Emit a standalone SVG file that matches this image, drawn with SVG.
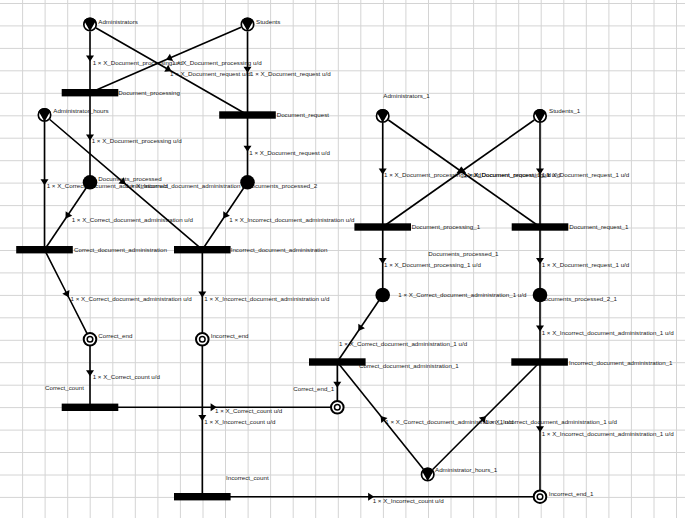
<svg xmlns="http://www.w3.org/2000/svg" xmlns:xlink="http://www.w3.org/1999/xlink" width="685" height="518" viewBox="0 0 685 518">
<style>
.grid line{stroke:#d4d4d4;stroke-width:1}
.arc{fill:none;stroke:#000;stroke-width:1.6;marker-mid:url(#ah)}
text{font-family:"Liberation Sans",Arial,sans-serif;font-size:6.2px;fill:#1a1a1a}
.bar{fill:#000}
.tok{fill:#000}
</style>
<defs>
<marker id="ah" viewBox="-4 -5 8 10" markerWidth="8" markerHeight="10" markerUnits="userSpaceOnUse" orient="auto" refX="0" refY="0">
<path d="M-3,-4 L3,0 L-3,4 Z" fill="#000"/>
</marker>
<clipPath id="pc"><circle cx="0" cy="0" r="7"/></clipPath>
<g id="src">
<circle r="7" fill="#fff"/>
<path d="M-8,-8 H8 V-3.2 H5.6 L0,6.8 L-5.6,-3.2 H-8 Z" fill="#000" clip-path="url(#pc)"/>
<circle r="6.2" fill="none" stroke="#000" stroke-width="1.7"/>
</g>
<g id="endp">
<circle r="6.3" fill="#fff" stroke="#000" stroke-width="2"/>
<circle r="2.8" fill="#fff" stroke="#000" stroke-width="1.5"/>
</g>
</defs>
<rect width="685" height="518" fill="#fff"/>
<g class="grid">
<line x1="0" y1="3.5" x2="685" y2="3.5"/><line x1="0" y1="25.9" x2="685" y2="25.9"/><line x1="0" y1="48.4" x2="685" y2="48.4"/><line x1="0" y1="70.8" x2="685" y2="70.8"/><line x1="0" y1="93.3" x2="685" y2="93.3"/><line x1="0" y1="115.8" x2="685" y2="115.8"/><line x1="0" y1="138.2" x2="685" y2="138.2"/><line x1="0" y1="160.7" x2="685" y2="160.7"/><line x1="0" y1="183.1" x2="685" y2="183.1"/><line x1="0" y1="205.6" x2="685" y2="205.6"/><line x1="0" y1="228" x2="685" y2="228"/><line x1="0" y1="250.5" x2="685" y2="250.5"/><line x1="0" y1="272.9" x2="685" y2="272.9"/><line x1="0" y1="295.4" x2="685" y2="295.4"/><line x1="0" y1="317.8" x2="685" y2="317.8"/><line x1="0" y1="340.3" x2="685" y2="340.3"/><line x1="0" y1="362.7" x2="685" y2="362.7"/><line x1="0" y1="385.2" x2="685" y2="385.2"/><line x1="0" y1="407.6" x2="685" y2="407.6"/><line x1="0" y1="430.1" x2="685" y2="430.1"/><line x1="0" y1="452.5" x2="685" y2="452.5"/><line x1="0" y1="475" x2="685" y2="475"/><line x1="0" y1="497.4" x2="685" y2="497.4"/>
<line x1="22.6" y1="0" x2="22.6" y2="518"/><line x1="45.1" y1="0" x2="45.1" y2="518"/><line x1="67.7" y1="0" x2="67.7" y2="518"/><line x1="90.2" y1="0" x2="90.2" y2="518"/><line x1="112.8" y1="0" x2="112.8" y2="518"/><line x1="135.3" y1="0" x2="135.3" y2="518"/><line x1="157.9" y1="0" x2="157.9" y2="518"/><line x1="180.4" y1="0" x2="180.4" y2="518"/><line x1="203" y1="0" x2="203" y2="518"/><line x1="225.5" y1="0" x2="225.5" y2="518"/><line x1="248.1" y1="0" x2="248.1" y2="518"/><line x1="270.6" y1="0" x2="270.6" y2="518"/><line x1="293.2" y1="0" x2="293.2" y2="518"/><line x1="315.7" y1="0" x2="315.7" y2="518"/><line x1="338.3" y1="0" x2="338.3" y2="518"/><line x1="360.8" y1="0" x2="360.8" y2="518"/><line x1="383.4" y1="0" x2="383.4" y2="518"/><line x1="405.9" y1="0" x2="405.9" y2="518"/><line x1="428.5" y1="0" x2="428.5" y2="518"/><line x1="451" y1="0" x2="451" y2="518"/><line x1="473.6" y1="0" x2="473.6" y2="518"/><line x1="496.1" y1="0" x2="496.1" y2="518"/><line x1="518.7" y1="0" x2="518.7" y2="518"/><line x1="541.2" y1="0" x2="541.2" y2="518"/><line x1="563.8" y1="0" x2="563.8" y2="518"/><line x1="586.3" y1="0" x2="586.3" y2="518"/><line x1="608.9" y1="0" x2="608.9" y2="518"/><line x1="631.4" y1="0" x2="631.4" y2="518"/><line x1="654" y1="0" x2="654" y2="518"/><line x1="676.5" y1="0" x2="676.5" y2="518"/>
</g>
<g id="connectors">
<g class="arclabels">
<text x="92.7" y="64.6">1 × X_Document_processing u/d</text>
<text x="170" y="75.6">1 × X_Document_request u/d</text>
<text x="250" y="75.6">1 × X_Document_request u/d</text>
<text x="171.7" y="64.6">1 × X_Document_processing u/d</text>
<text x="91.7" y="143.3">1 × X_Document_processing u/d</text>
<text x="249.3" y="154.6">1 × X_Document_request u/d</text>
<text x="46.7" y="188">1 × X_Correct_document_administration u/d</text>
<text x="125.7" y="188">1 × X_Incorrect_document_administration u/d</text>
<text x="71.7" y="221.6">1 × X_Correct_document_administration u/d</text>
<text x="229.3" y="221.6">1 × X_Incorrect_document_administration u/d</text>
<text x="70.5" y="300.6">1 × X_Correct_document_administration u/d</text>
<text x="204.3" y="300.6">1 × X_Incorrect_document_administration u/d</text>
<text x="92.7" y="379">1 × X_Correct_count u/d</text>
<text x="215" y="413">1 × X_Correct_count u/d</text>
<text x="204.3" y="424.3">1 × X_Incorrect_count u/d</text>
<text x="372.7" y="503">1 × X_Incorrect_count u/d</text>
<text x="384" y="177.3">1 × X_Document_processing_1 u/d</text>
<text x="463.5" y="177.3">1 × X_Document_request_1 u/d</text>
<text x="463.5" y="177.3">1 × X_Document_processing_1 u/d</text>
<text x="541.7" y="177.3">1 × X_Document_request_1 u/d</text>
<text x="384" y="267.3">1 × X_Document_processing_1 u/d</text>
<text x="541.7" y="267.3">1 × X_Document_request_1 u/d</text>
<text x="398.3" y="297.3">1 × X_Correct_document_administration_1 u/d</text>
<text x="339" y="345.6">1 × X_Correct_document_administration_1 u/d</text>
<text x="541.7" y="334.6">1 × X_Incorrect_document_administration_1 u/d</text>
<text x="385.3" y="424">1 × X_Correct_document_administration_1 u/d</text>
<text x="485" y="424">1 × X_Incorrect_document_administration_1 u/d</text>
<text x="541.7" y="435.6">1 × X_Incorrect_document_administration_1 u/d</text>
</g>
<path class="arc" d="M90,24.5 L90,58.6 L90,92.7"/>
<path class="arc" d="M90,24.5 L168.85,69.75 L247.7,115"/>
<path class="arc" d="M247.5,24.5 L247.5,69.75 L247.5,115"/>
<path class="arc" d="M247.5,24.5 L168.75,58.6 L90,92.7"/>
<path class="arc" d="M90,92.7 L90,137.5 L90,182.3"/>
<path class="arc" d="M247.5,115 L247.5,148.65 L247.5,182.3"/>
<path class="arc" d="M44.5,115 L44.5,182.35 L44.5,249.7"/>
<path class="arc" d="M44.5,115 L123.4,182.35 L202.3,249.7"/>
<path class="arc" d="M90,182.3 L67.25,216 L44.5,249.7"/>
<path class="arc" d="M247.5,182.3 L224.9,216 L202.3,249.7"/>
<path class="arc" d="M44.5,249.7 L67.25,294.5 L90,339.3"/>
<path class="arc" d="M202.3,249.7 L202.3,294.5 L202.3,339.3"/>
<path class="arc" d="M90,339.3 L90,373.3 L90,407.3"/>
<path class="arc" d="M90,407.3 L213.65,407.3 L337.3,407.3"/>
<path class="arc" d="M202.3,339.3 L202.3,418 L202.3,496.7"/>
<path class="arc" d="M202.3,496.7 L371.15,496.7 L540,496.7"/>
<path class="arc" d="M382.7,116 L382.7,171.5 L382.7,227"/>
<path class="arc" d="M382.7,116 L461.35,171.5 L540,227"/>
<path class="arc" d="M540,116 L461.35,171.5 L382.7,227"/>
<path class="arc" d="M540,116 L540,171.5 L540,227"/>
<path class="arc" d="M382.7,227 L382.7,261 L382.7,295"/>
<path class="arc" d="M540,227 L540,261 L540,295"/>
<path class="arc" d="M382.7,295 L359.95,328.5 L337.2,362"/>
<path class="arc" d="M540,295 L540,328.5 L540,362"/>
<path class="arc" d="M337.3,362 L337.3,384.65 L337.3,407.3"/>
<path class="arc" d="M427.7,474.5 L382.5,418.25 L337.3,362"/>
<path class="arc" d="M427.7,474.5 L483.85,418.25 L540,362"/>
<path class="arc" d="M540,362 L540,429.35 L540,496.7"/>
</g>
<g id="Administrators"><text x="98.3" y="23.6">Administrators</text><use xlink:href="#src" x="90" y="24.5"/></g>
<g id="Students"><text x="256" y="23.6">Students</text><use xlink:href="#src" x="247.5" y="24.5"/></g>
<g id="Administrator_hours"><text x="53.3" y="113">Administrator_hours</text><use xlink:href="#src" x="44.5" y="115"/></g>
<g id="Document_processing"><text x="118.3" y="94.6">Document_processing</text><rect class="bar" x="61.7" y="89" width="56.6" height="7.4"/></g>
<g id="Document_request"><text x="276.7" y="117.3">Document_request</text><rect class="bar" x="219.2" y="111.3" width="56.6" height="7.4"/></g>
<g id="Documents_processed"><text x="98.3" y="180.6">Documents_processed</text><circle class="tok" cx="90" cy="182.3" r="7.3"/></g>
<g id="Documents_processed_2"><text x="247" y="188">Documents_processed_2</text><circle class="tok" cx="247.5" cy="182.3" r="7.3"/></g>
<g id="Correct_document_administration"><text x="74" y="251.6">Correct_document_administration</text><rect class="bar" x="16.2" y="246" width="56.6" height="7.4"/></g>
<g id="Incorrect_document_administration"><text x="230.7" y="251.6">Incorrect_document_administration</text><rect class="bar" x="174" y="246" width="56.6" height="7.4"/></g>
<g id="Correct_end"><text x="98.3" y="338">Correct_end</text><use xlink:href="#endp" x="90" y="339.3"/></g>
<g id="Incorrect_end"><text x="210.7" y="338">Incorrect_end</text><use xlink:href="#endp" x="202.3" y="339.3"/></g>
<g id="Correct_count"><text x="45" y="390">Correct_count</text><rect class="bar" x="61.7" y="403.6" width="56.6" height="7.4"/></g>
<g id="Incorrect_count"><text x="226" y="480">Incorrect_count</text><rect class="bar" x="174" y="493" width="56.6" height="7.4"/></g>
<g id="Administrators_1"><text x="383.3" y="98">Administrators_1</text><use xlink:href="#src" x="382.7" y="116"/></g>
<g id="Students_1"><text x="549" y="113.3">Students_1</text><use xlink:href="#src" x="540" y="116"/></g>
<g id="Document_processing_1"><text x="411.7" y="229">Document_processing_1</text><rect class="bar" x="354.4" y="223.3" width="56.6" height="7.4"/></g>
<g id="Document_request_1"><text x="569.3" y="229">Document_request_1</text><rect class="bar" x="511.7" y="223.3" width="56.6" height="7.4"/></g>
<g id="Documents_processed_1"><text x="428.3" y="255.6">Documents_processed_1</text><circle class="tok" cx="382.7" cy="295" r="7.3"/></g>
<g id="Documents_processed_2_1"><text x="540" y="300.6">Documents_processed_2_1</text><circle class="tok" cx="540" cy="295" r="7.3"/></g>
<g id="Correct_document_administration_1"><text x="359" y="368">Correct_document_administration_1</text><rect class="bar" x="309" y="358.3" width="56.6" height="7.4"/></g>
<g id="Incorrect_document_administration_1"><text x="569" y="364.6">Incorrect_document_administration_1</text><rect class="bar" x="511.3" y="358.3" width="56.6" height="7.4"/></g>
<g id="Correct_end_1"><text x="293.3" y="390.6">Correct_end_1</text><use xlink:href="#endp" x="337.3" y="407.3"/></g>
<g id="Administrator_hours_1"><text x="435" y="472.3">Administrator_hours_1</text><use xlink:href="#src" x="427.7" y="474.5"/></g>
<g id="Incorrect_end_1"><text x="548.7" y="495.6">Incorrect_end_1</text><use xlink:href="#endp" x="540" y="496.7"/></g>
</svg>
